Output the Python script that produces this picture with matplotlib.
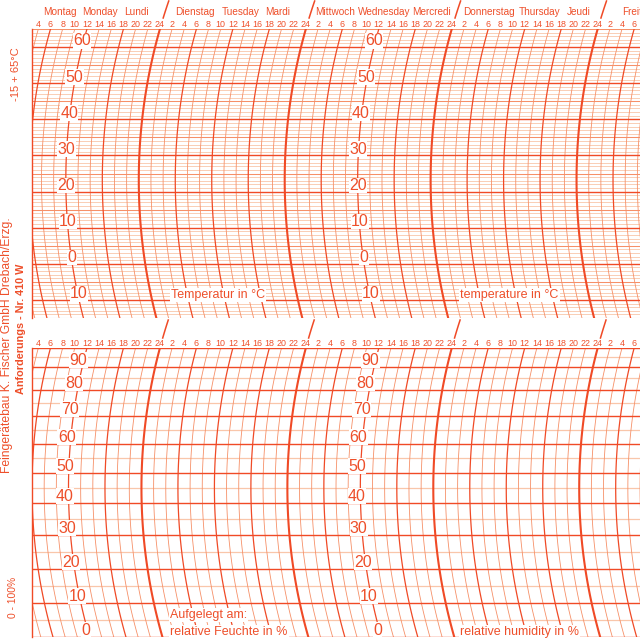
import numpy as np
import matplotlib
matplotlib.use("Agg")
import matplotlib.pyplot as plt

plt.rcParams['font.family'] = ['Liberation Sans', 'DejaVu Sans']

RED = '#f04a26'
MID = '#f69068'
LIGHT = '#f9c6aa'
TXT = '#ee4f2a'
FIG_PX = 640

# ---- chart data ----
# time axis: hours counted from monday 0:00
hour_ticks = list(range(4, 103, 2))
day_breaks = [24, 48, 72, 96]
day_names = ['Montag', 'Monday', 'Lundi',
             'Dienstag', 'Tuesday', 'Mardi',
             'Mittwoch', 'Wednesday', 'Mercredi',
             'Donnerstag', 'Thursday', 'Jeudi',
             'Freitag']
day_name_hours = [7.6, 14.1, 20.2, 29.8, 37.2, 43.3, 52.8, 60.9, 68.6,
                  78.1, 86.5, 92.9, 102.6]

# temperature scale -15 .. 65 C
temp_minor = list(range(-15, 66))
temp_half = [-15, -5, 5, 15, 25, 35, 45, 55, 65]
temp_major = [-10, 0, 10, 20, 30, 40, 50, 60]
temp_labels = ['10', '0', '10', '20', '30', '40', '50', '60']

# relative humidity scale (hair hygrometer, non linear)
rh_values = [0, 5, 10, 15, 20, 25, 30, 35, 40, 45, 50,
             55, 60, 65, 70, 75, 80, 85, 90, 95, 100]
rh_pixels = [637, 620, 603, 586, 569, 552, 535, 519, 503, 488, 473,
             458, 444, 430, 416, 403, 390, 378, 367, 357, 348]
rh_major = [0, 10, 20, 30, 40, 50, 60, 70, 80, 90, 100]
rh_half = [5, 15, 25, 35, 45, 55, 65, 75, 85, 95]
rh_labels = ['0', '10', '20', '30', '40', '50', '60', '70', '80', '90']

label_hours = [12, 60]

# ---- layout ----
monday_x = 14.0
px_per_hour = 6.08
left_px, right_px = 32, 640
h0 = (left_px - monday_x) / px_per_hour
h1 = (right_px - monday_x) / px_per_hour

fig = plt.figure(figsize=(6.4, 6.4), dpi=100)
fig.patch.set_facecolor('white')


def panel(top, bottom):
    return fig.add_axes([left_px / FIG_PX, 1 - bottom / FIG_PX,
                         (right_px - left_px) / FIG_PX, (bottom - top) / FIG_PX])


ax_t = panel(29, 318)
ax_h = panel(348, 637)

# humidity scale from the measured positions
rh_pos = [rh_pixels[0] - p for p in rh_pixels]
rh_ext = [-30] + rh_values + [140]
pos_ext = [-30 * 17 / 5] + rh_pos + [rh_pos[-1] + 40 * 9 / 5]


def rh_fwd(v):
    return np.interp(v, rh_ext, pos_ext)


def rh_inv(p):
    return np.interp(p, pos_ext, rh_ext)


for ax in (ax_t, ax_h):
    ax.set_xlim(h0, h1)
    ax.set_xticks([])
    ax.set_yticks([])
    for s in ('top', 'right', 'bottom'):
        ax.spines[s].set_visible(False)
    ax.spines['left'].set_color(RED)
    ax.spines['left'].set_linewidth(1.0)
    ax.patch.set_alpha(0)
ax_t.set_ylim(-15, 65)
ax_h.set_yscale('function', functions=(rh_fwd, rh_inv))
ax_h.set_ylim(0, 100)
ax_h.set_yticks([])
ax_h.minorticks_off()

# arc geometry of the pen (image px): centre height, radius
arc_geo = {ax_t: (180, 550), ax_h: (488, 540)}


def panel_span(ax):
    y0, y1 = ax.get_ylim()
    top = FIG_PX - ax.transData.transform((h0, y1))[1]
    bot = FIG_PX - ax.transData.transform((h0, y0))[1]
    return top, bot


def arc(ax, h, y_from, y_to, n=90):
    yc, R = arc_geo[ax]
    top, _ = panel_span(ax)
    x_top = ax.transData.transform((h, ax.get_ylim()[1]))[0]
    yi = np.linspace(y_from, y_to, n)
    off = np.sqrt(R ** 2 - (top - yc) ** 2) - np.sqrt(R ** 2 - (yi - yc) ** 2)
    pts = ax.transData.inverted().transform(np.column_stack([x_top + off, FIG_PX - yi]))
    return pts[:, 0], pts[:, 1]


def arc_x_at(ax, h, val):
    yc, R = arc_geo[ax]
    top, _ = panel_span(ax)
    x_top = ax.transData.transform((h, ax.get_ylim()[1]))[0]
    yi = FIG_PX - ax.transData.transform((h, val))[1]
    off = np.sqrt(R ** 2 - (top - yc) ** 2) - np.sqrt(R ** 2 - (yi - yc) ** 2)
    return ax.transData.inverted().transform((x_top + off, FIG_PX - yi))[0]


# ---- horizontal grid ----
ax_t.hlines(temp_minor, h0, h1, color=LIGHT, lw=0.6, zorder=1)
ax_t.hlines(temp_half, h0, h1, color=MID, lw=0.75, zorder=2)
ax_t.hlines(temp_major, h0, h1, color=RED, lw=1.0, zorder=3)
ax_h.hlines(rh_half, h0, h1, color=LIGHT, lw=0.9, zorder=2)
ax_h.hlines(rh_major, h0, h1, color=RED, lw=1.0, zorder=3)

# ---- time arcs ----
for ax in (ax_t, ax_h):
    top, bot = panel_span(ax)
    for h in range(0, 110, 2):
        xs, ys = arc(ax, h, top, bot)
        if h % 24 == 0:
            ax.plot(xs, ys, color=RED, lw=1.5, zorder=4)
        elif h % 6 == 0:
            ax.plot(xs, ys, color=RED, lw=0.9, zorder=4)
        else:
            ax.plot(xs, ys, color=MID, lw=0.6, zorder=2.5)

# day separators "/" above each panel
t_top, t_bot = panel_span(ax_t)
h_top, h_bot = panel_span(ax_h)
for h in day_breaks:
    xs, ys = arc(ax_t, h, t_top - 28, t_top - 11)
    ax_t.plot(xs, ys, color=RED, lw=1.1, clip_on=False)
    xs, ys = arc(ax_h, h, h_top - 28, h_top - 10)
    ax_h.plot(xs, ys, color=RED, lw=1.1, clip_on=False)

# ---- hour numbers ----
for ax in (ax_t, ax_h):
    tr = ax.get_xaxis_transform()
    for h in hour_ticks:
        lab = str((h - 1) % 24 + 1)
        ax.text(h, 1.006, lab, transform=tr, ha='center', va='baseline',
                fontsize=6.4, color=TXT, clip_on=False)

tr = ax_t.get_xaxis_transform()
for name, h in zip(day_names, day_name_hours):
    ax_t.text(h, 1.05, name, transform=tr, ha='center', va='baseline',
              fontsize=7.2, color=TXT, clip_on=False)

# ---- scale numbers ----
num_style = dict(ha='center', va='baseline', fontsize=11.5, color=TXT,
                 bbox=dict(facecolor='white', edgecolor='none', pad=0.2), zorder=6)
for hl in label_hours:
    for v, lab in zip(temp_major, temp_labels):
        x = arc_x_at(ax_t, hl, v)
        ax_t.annotate(lab, (x, v), xytext=(0, 1.2), textcoords='offset points', **num_style)
    for v, lab in zip(rh_major[:-1], rh_labels):
        x = arc_x_at(ax_h, hl - 0.6, v)
        ax_h.annotate(lab, (x, v), xytext=(0, 1.6), textcoords='offset points', **num_style)

# ---- panel captions ----
cap = dict(ha='left', va='baseline', fontsize=9, color=TXT, zorder=6,
           bbox=dict(facecolor='white', edgecolor='none', pad=0.6))
ax_t.annotate('Temperatur in °C', (25.8, -10), xytext=(0, 1.2), textcoords='offset points', **cap)
ax_t.annotate('temperature in °C', (73.4, -10), xytext=(0, 1.2), textcoords='offset points', **cap)
ax_h.annotate('Aufgelegt am:', (25.7, 5), xytext=(0, 1.5), textcoords='offset points', **cap)
ax_h.annotate('relative Feuchte in %', (25.7, 0), xytext=(0, 1.5), textcoords='offset points', **cap)
ax_h.annotate('relative humidity in %', (73.4, 0), xytext=(0, 1.5), textcoords='offset points', **cap)


# ---- margin texts ----
def side(x, y, s, **kw):
    fig.text(x / FIG_PX, 1 - y / FIG_PX, s, rotation=90, ha='center', va='center',
             color=TXT, **kw)


side(16, 74, '-15 + 65°C', fontsize=8)
side(7, 345, 'Feingerätebau K. Fischer GmbH Drebach/Erzg.', fontsize=8.7)
side(21, 329, 'Anforderungs - Nr. 410 W', fontsize=7.8, fontweight='bold')
side(13, 597, '0 - 100%', fontsize=7.4)

fig.savefig('out.png', dpi=100, facecolor='white')
